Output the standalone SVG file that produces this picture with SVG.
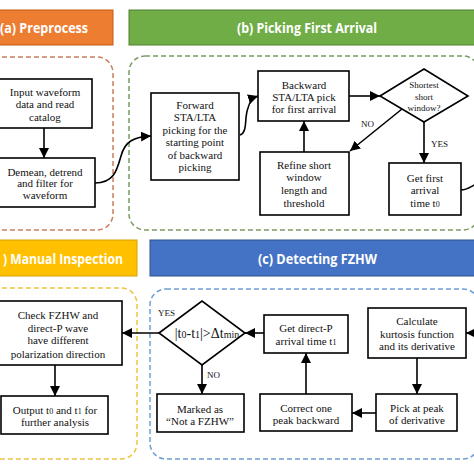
<svg xmlns="http://www.w3.org/2000/svg" width="474" height="474" viewBox="0 0 474 474">
<defs>
<marker id="ah" markerUnits="userSpaceOnUse" markerWidth="10" markerHeight="10" refX="10" refY="5" orient="auto" viewBox="0 0 10 10">
<path d="M0,0 L10,5 L0,10 z" fill="#000"/>
</marker>
</defs>
<style>
.hdr{stroke-width:1}
.htxt{font-family:"Open Sans","Liberation Sans",sans-serif;font-weight:bold;font-size:15px;fill:#fff}
.cont{fill:none;stroke-width:1.5;stroke-dasharray:5 3}
.box{fill:#fff;stroke:#000;stroke-width:1.6}
.t{font-family:"Liberation Serif","Times New Roman",serif;font-size:11px;fill:#111;text-anchor:middle}
.ts{font-family:"Liberation Serif","Times New Roman",serif;font-size:9px;fill:#111;text-anchor:middle}
.lbl{font-family:"Liberation Serif","Times New Roman",serif;font-size:9px;fill:#111}
.c{fill:none;stroke:#000;stroke-width:1.6;marker-end:url(#ah)}
.cn{fill:none;stroke:#000;stroke-width:1.6}
.sm{font-size:8px}
</style>
<rect width="474" height="474" fill="#fff"/>

<g id="sections">
<rect class="hdr" x="-10" y="10" width="123" height="35" fill="#ED7D31" stroke="#C55A11"/>
<text class="htxt" x="0" y="33" textLength="88" lengthAdjust="spacingAndGlyphs">(a) Preprocess</text>
<rect class="hdr" x="129" y="10" width="355" height="35" fill="#70AD47" stroke="#507E32"/>
<text class="htxt" x="237" y="33" textLength="140" lengthAdjust="spacingAndGlyphs">(b) Picking First Arrival</text>
<rect class="hdr" x="-10" y="240" width="147" height="36" fill="#FFC000" stroke="#D6A000"/>
<text class="htxt" x="3" y="264" textLength="120" lengthAdjust="spacingAndGlyphs">) Manual Inspection</text>
<rect class="hdr" x="150" y="240" width="334" height="36" fill="#4472C4" stroke="#2F528F"/>
<text class="htxt" x="258" y="264" textLength="119" lengthAdjust="spacingAndGlyphs">(c) Detecting FZHW</text>

<rect class="cont" x="-30" y="57" width="143" height="173" rx="16" stroke="#C9805E"/>
<rect class="cont" x="129" y="56" width="350" height="174" rx="16" stroke="#7E9C66"/>
<rect class="cont" x="-30" y="288" width="167" height="171" rx="16" stroke="#EFC443"/>
<rect class="cont" x="150" y="289" width="329" height="170" rx="16" stroke="#6E9ED2"/>
</g>

<g id="connectors">
<line class="c" x1="44" y1="128" x2="44" y2="158"/>
<path class="c" d="M95,183 C114,183 117,170 121,156 C125,141 134,137 151,136"/>
<path class="c" d="M240,135 C248,132 244,118 248,108 C250,101 252,98 258,96"/>
<line class="c" x1="349" y1="96" x2="380" y2="96"/>
<line class="c" x1="402" y1="109" x2="350" y2="151"/>
<line class="c" x1="304" y1="152" x2="304" y2="121"/>
<line class="c" x1="424" y1="122" x2="424" y2="163"/>
<path class="cn" d="M461,190 C467,190 470,187 476,184"/>
<line class="c" x1="159" y1="333" x2="122" y2="333"/>
<line class="c" x1="55" y1="365" x2="55" y2="396"/>
<line class="c" x1="202" y1="365" x2="202" y2="394"/>
<line class="c" x1="264" y1="333" x2="245" y2="333"/>
<line class="c" x1="484" y1="333" x2="466" y2="333"/>
<line class="c" x1="417" y1="358" x2="417" y2="394"/>
<line class="c" x1="376" y1="413" x2="352" y2="413"/>
<line class="c" x1="306" y1="394" x2="306" y2="353"/>
<text class="lbl" x="361" y="127">NO</text>
<text class="lbl" x="431" y="147">YES</text>
<text class="lbl" x="158" y="316">YES</text>
<text class="lbl" x="207" y="378">NO</text>
</g>

<g id="input">
<rect class="box" x="-4" y="79" width="96" height="49"/>
<text class="t" x="45" y="96">Input waveform</text>
<text class="t" x="45" y="108">data and read</text>
<text class="t" x="45" y="121">catalog</text>
</g>
<g id="demean">
<rect class="box" x="-4" y="158" width="99" height="49"/>
<text class="t" x="45" y="176">Demean, detrend</text>
<text class="t" x="45" y="187">and filter for</text>
<text class="t" x="45" y="199">waveform</text>
</g>
<g id="forward">
<rect class="box" x="151" y="93" width="88" height="87"/>
<text class="t" x="195" y="109">Forward</text>
<text class="t" x="195" y="121">STA/LTA</text>
<text class="t" x="195" y="134">picking for the</text>
<text class="t" x="195" y="146">starting point</text>
<text class="t" x="195" y="159">of backward</text>
<text class="t" x="195" y="171">picking</text>
</g>
<g id="backward">
<rect class="box" x="258" y="71" width="91" height="50"/>
<text class="t" x="304" y="89">Backward</text>
<text class="t" x="304" y="101">STA/LTA pick</text>
<text class="t" x="304" y="113">for first arrival</text>
</g>
<g id="shortest">
<polygon class="box" points="380,96 424,69 468,96 424,122"/>
<text class="ts" x="424" y="88">Shortest</text>
<text class="ts" x="424" y="100">short</text>
<text class="ts" x="424" y="111">window?</text>
</g>
<g id="refine">
<rect class="box" x="260" y="152" width="89" height="63"/>
<text class="t" x="304" y="169">Refine short</text>
<text class="t" x="304" y="181">window</text>
<text class="t" x="304" y="194">length and</text>
<text class="t" x="304" y="207">threshold</text>
</g>
<g id="getfirst">
<rect class="box" x="389" y="163" width="72" height="52"/>
<text class="t" x="425" y="182">Get first</text>
<text class="t" x="425" y="194">arrival</text>
<text class="t" x="425" y="207">time t<tspan class="sm">0</tspan></text>
</g>
<g id="check">
<rect class="box" x="-4" y="301" width="126" height="64"/>
<text class="t" x="58" y="319">Check FZHW and</text>
<text class="t" x="58" y="332">direct-P wave</text>
<text class="t" x="58" y="344">have different</text>
<text class="t" x="58" y="358">polarization direction</text>
</g>
<g id="output">
<rect class="box" x="1" y="396" width="107" height="38"/>
<text class="t" x="55" y="414">Output t<tspan class="sm">0</tspan> and t<tspan class="sm">1</tspan> for</text>
<text class="t" x="55" y="426">further analysis</text>
</g>
<g id="compare">
<polygon class="box" points="159,333 202,301 245,333 202,365"/>
<text class="t" x="207" y="338" style="font-size:14px">|t<tspan style="font-size:10px">0</tspan>-t<tspan style="font-size:10px">1</tspan>|&gt;Δt<tspan style="font-size:10px">min</tspan></text>
</g>
<g id="marked">
<rect class="box" x="157" y="394" width="87" height="38"/>
<text class="t" x="200" y="413">Marked as</text>
<text class="t" x="200" y="425">“Not a FZHW”</text>
</g>
<g id="getdirect">
<rect class="box" x="264" y="315" width="84" height="38"/>
<text class="t" x="306" y="332">Get direct-P</text>
<text class="t" x="306" y="345">arrival time t<tspan class="sm">1</tspan></text>
</g>
<g id="calculate">
<rect class="box" x="368" y="308" width="98" height="50"/>
<text class="t" x="417" y="325">Calculate</text>
<text class="t" x="417" y="338">kurtosis function</text>
<text class="t" x="417" y="350">and its derivative</text>
</g>
<g id="pick">
<rect class="box" x="376" y="394" width="81" height="37"/>
<text class="t" x="417" y="412">Pick at peak</text>
<text class="t" x="417" y="424">of derivative</text>
</g>
<g id="correct">
<rect class="box" x="260" y="394" width="92" height="37"/>
<text class="t" x="306" y="412">Correct one</text>
<text class="t" x="306" y="424">peak backward</text>
</g>
</svg>
